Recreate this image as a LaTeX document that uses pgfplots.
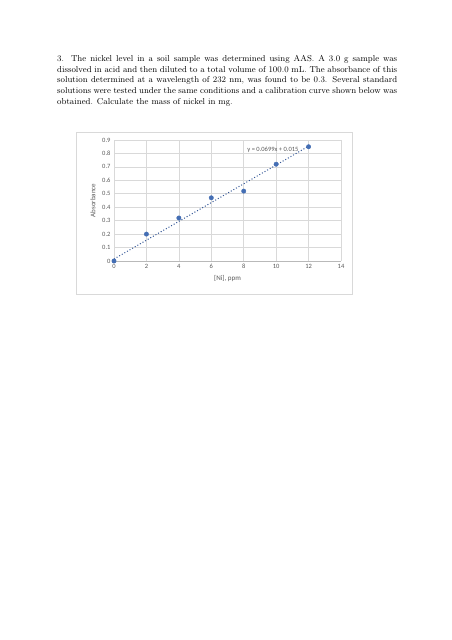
\documentclass[border=0pt]{standalone}
\usepackage{pgfplots}
\pgfplotsset{compat=1.18}
\usepackage{fontspec}
\newfontfamily\calibri{Carlito}
\definecolor{ptblue}{RGB}{68,110,180}
\definecolor{trendblue}{RGB}{50,85,150}
\definecolor{gridgray}{RGB}{217,217,217}
\definecolor{labgray}{RGB}{89,89,89}
\newcommand{\jline}[1]{\hbox to 340pt{#1}}
\begin{document}
\begin{tikzpicture}[x=1pt,y=1pt]
  % page
  \path[fill=white] (0,0) rectangle (452,640);
  % question text, one justified box per line
  \node[anchor=north west, inner sep=0pt, align=left,
        font=\fontsize{8.6}{10.8}\selectfont] at (57,585)
  {\jline{3. The nickel level in a soil sample was determined using AAS. A 3.0 g sample was}\\
   \jline{dissolved in acid and then diluted to a total volume of 100.0 mL. The absorbance of this}\\
   \jline{solution determined at a wavelength of 232 nm, was found to be 0.3. Several standard}\\
   \jline{solutions were tested under the same conditions and a calibration curve shown below was}\\
   obtained. Calculate the mass of nickel in mg.};
  % chart frame
  \draw[color=gridgray, line width=0.6pt] (76,346) rectangle (352,508);
  \begin{axis}[
      at={(114pt,379pt)}, anchor=south west,
      scale only axis, width=227pt, height=121pt,
      clip=false,
      xmin=0, xmax=14, ymin=0, ymax=0.9,
      xtick={0,2,4,6,8,10,12,14},
      ytick={0,0.1,0.2,0.3,0.4,0.5,0.6,0.7,0.8,0.9},
      grid=major,
      grid style={color=gridgray, line width=0.6pt},
      axis line style={draw=none},
      major tick length=0pt,
      tick style={draw=none},
      /pgf/number format/assume math mode=true,
      yticklabel style={/pgf/number format/fixed, /pgf/number format/precision=1},
      ticklabel style={font=\calibri\fontsize{6.5}{7}\selectfont, text=labgray},
      xlabel={[Ni], ppm},
      ylabel={Absorbance},
      label style={font=\calibri\fontsize{7}{8}\selectfont, text=labgray},
    ]
    \draw[color=gray!55, line width=0.6pt] (axis cs:0,0) -- (axis cs:14,0);
    \addplot[dotted, line width=1pt, color=trendblue] coordinates {(0,0.015) (12,0.8538)};
    \addplot[only marks, mark=*, mark size=2.2pt, color=ptblue] coordinates {
      (0,0) (2,0.2) (4,0.32) (6,0.47) (8,0.52) (10,0.72) (12,0.85)
    };
    \node[font=\calibri\fontsize{6.5}{7}\selectfont, text=labgray] at (axis cs:9.8,0.83) {y = 0.0699x + 0.015};
  \end{axis}
\end{tikzpicture}
\end{document}
